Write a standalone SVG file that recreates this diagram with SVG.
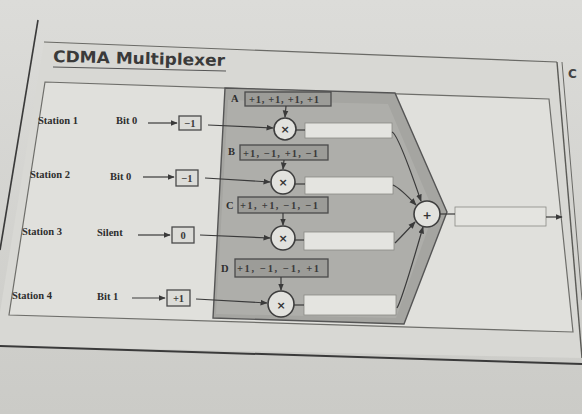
<svg xmlns="http://www.w3.org/2000/svg" width="582" height="414" viewBox="0 0 582 414">
<defs>
<linearGradient id="paper" x1="0" y1="0" x2="0" y2="1">
<stop offset="0" stop-color="#dcdcd9"/>
<stop offset="1" stop-color="#cbcbc7"/>
</linearGradient>
<marker id="ah" viewBox="0 0 10 10" refX="9" refY="5" markerWidth="6" markerHeight="6" orient="auto">
<path d="M0,1 L10,5 L0,9 z" fill="#3a3a3a"/>
</marker>
<style>
.lbl{font-family:"Liberation Serif",serif;font-weight:bold;fill:#2e2e2e;font-size:10.5px}
.code{font-family:"Liberation Serif",serif;font-weight:bold;fill:#3a3a3a;font-size:10.5px}
.cbox{fill:#9c9c98;stroke:#4a4a4a;stroke-width:1.3}
.bbox{fill:#dcdcd8;stroke:#4a4a4a;stroke-width:1.3}
.obox{fill:#e4e4e0;stroke:#8a8a86;stroke-width:0.8}
.circ{fill:#e2e2de;stroke:#3e3e3e;stroke-width:1.6}
.op{font-family:"DejaVu Sans",sans-serif;font-weight:bold;fill:#333;font-size:11px;text-anchor:middle}
.con{fill:none;stroke:#3a3a3a;stroke-width:1.2}
.edge{fill:none;stroke:#6a6a66;stroke-width:1.2}
</style>
</defs>
<rect width="582" height="414" fill="url(#paper)"/>
<!-- card and frames -->
<polygon points="44,42 557,62 582,358 0,346 0,312" fill="#d8d8d4"/>
<polyline class="edge" points="44,42 557,62"/>
<line x1="557" y1="62" x2="582" y2="358" stroke="#5a5a56" stroke-width="1.4"/>
<line x1="562" y1="62" x2="582" y2="300" stroke="#6a6a66" stroke-width="1"/>
<line x1="38" y1="20" x2="0" y2="250" stroke="#3a3a3a" stroke-width="1.6"/>
<text x="568" y="78" font-family="DejaVu Sans,sans-serif" font-weight="bold" font-size="12" fill="#444">C</text>
<g id="title">
<text x="53" y="62" font-family="DejaVu Sans,sans-serif" font-weight="bold" font-size="16" fill="#3a3a3a" textLength="172" lengthAdjust="spacingAndGlyphs" transform="rotate(1.3 53 62)">CDMA Multiplexer</text>
<line x1="53" y1="67" x2="226" y2="71" stroke="#555" stroke-width="1.2"/>
</g>
<!-- inner diagram box -->
<polygon points="45,82 549,99 573,332 9,315" fill="#e0e0dc" stroke="#6e6e6a" stroke-width="1.2"/>
<!-- separator -->
<line x1="0" y1="346" x2="582" y2="364" stroke="#3a3a3a" stroke-width="2"/>
<!-- gray multiplexer panel -->
<polygon points="225,88 395,93 447,212 404,324 213,318" fill="#a5a5a1" stroke="#555" stroke-width="1.4"/>
<polygon points="228,100 388,104 434,212 396,318 216,314" fill="#aeaeaa"/>

<g id="station1">
<text class="lbl" x="38" y="124" font-size="9.5">Station 1</text>
<text class="lbl" x="116" y="124" font-size="9.5">Bit 0</text>
<rect class="bbox" x="179" y="116" width="22" height="14"/>
<text class="code" x="190" y="126.5" text-anchor="middle" font-size="9.5">−1</text>
</g>
<g id="station2">
<text class="lbl" x="30" y="178">Station 2</text>
<text class="lbl" x="110" y="180">Bit 0</text>
<rect class="bbox" x="176" y="170" width="22" height="16"/>
<text class="code" x="187" y="181.5" text-anchor="middle">−1</text>
</g>
<g id="station3">
<text class="lbl" x="22" y="235">Station 3</text>
<text class="lbl" x="97" y="236">Silent</text>
<rect class="bbox" x="172" y="227" width="22" height="16"/>
<text class="code" x="183" y="238.5" text-anchor="middle">0</text>
</g>
<g id="station4">
<text class="lbl" x="12" y="299">Station 4</text>
<text class="lbl" x="97" y="300">Bit 1</text>
<rect class="bbox" x="167" y="290" width="23" height="16"/>
<text class="code" x="178.5" y="301.5" text-anchor="middle">+1</text>
</g>

<g id="codeA">
<text class="lbl" x="231" y="102" font-size="9">A</text>
<rect class="cbox" x="245" y="92" width="86" height="14"/>
<text class="code" x="249" y="102.5" font-size="9.5" textLength="70">+1, +1, +1, +1</text>
</g>
<g id="codeB">
<text class="lbl" x="228" y="155" font-size="9">B</text>
<rect class="cbox" x="240" y="145" width="88" height="15"/>
<text class="code" x="243" y="156.5" textLength="75">+1, −1, +1, −1</text>
</g>
<g id="codeC">
<text class="lbl" x="226" y="209" font-size="10">C</text>
<rect class="cbox" x="238" y="197" width="90" height="16"/>
<text class="code" x="240" y="209" textLength="78">+1, +1, −1, −1</text>
</g>
<g id="codeD">
<text class="lbl" x="221" y="272" font-size="10.5">D</text>
<rect class="cbox" x="235" y="259" width="93" height="18"/>
<text class="code" x="237" y="272" textLength="82">+1, −1, −1, +1</text>
</g>

<g id="mulA"><circle class="circ" cx="285" cy="129" r="11"/><text class="op" x="285" y="133">×</text></g>
<g id="mulB"><circle class="circ" cx="283" cy="182" r="12"/><text class="op" x="283" y="186">×</text></g>
<g id="mulC"><circle class="circ" cx="283" cy="238" r="12"/><text class="op" x="283" y="242">×</text></g>
<g id="mulD"><circle class="circ" cx="281" cy="304" r="13"/><text class="op" x="281" y="308.5">×</text></g>

<g id="outA"><rect class="obox" x="305" y="123" width="87" height="15"/></g>
<g id="outB"><rect class="obox" x="305" y="177" width="88" height="17"/></g>
<g id="outC"><rect class="obox" x="304" y="232" width="90" height="18"/></g>
<g id="outD"><rect class="obox" x="304" y="295" width="92" height="20"/></g>

<g id="adder"><circle class="circ" cx="427" cy="214" r="13"/><text class="op" x="427" y="218.5" font-size="13">+</text></g>
<g id="result"><rect class="obox" x="455" y="207" width="91" height="19" stroke="#6a6a66" stroke-width="1.2"/></g>

<g id="connectors">
<line class="con" x1="148" y1="123" x2="177" y2="123" marker-end="url(#ah)"/>
<line class="con" x1="143" y1="177" x2="174" y2="177" marker-end="url(#ah)"/>
<line class="con" x1="138" y1="235" x2="170" y2="235" marker-end="url(#ah)"/>
<line class="con" x1="132" y1="298" x2="165" y2="298" marker-end="url(#ah)"/>

<line class="con" x1="208" y1="125" x2="273" y2="128" marker-end="url(#ah)"/>
<line class="con" x1="205" y1="178" x2="270" y2="182" marker-end="url(#ah)"/>
<line class="con" x1="200" y1="235" x2="270" y2="238" marker-end="url(#ah)"/>
<line class="con" x1="196" y1="299" x2="267" y2="303" marker-end="url(#ah)"/>

<line class="con" x1="286" y1="106" x2="285" y2="117" marker-end="url(#ah)"/>
<line class="con" x1="284" y1="160" x2="283" y2="169" marker-end="url(#ah)"/>
<line class="con" x1="283" y1="213" x2="283" y2="225" marker-end="url(#ah)"/>
<line class="con" x1="281" y1="277" x2="281" y2="290" marker-end="url(#ah)"/>

<line class="con" x1="296" y1="130" x2="305" y2="130"/>
<line class="con" x1="295" y1="184" x2="305" y2="184"/>
<line class="con" x1="295" y1="240" x2="304" y2="240"/>
<line class="con" x1="294" y1="305" x2="304" y2="305"/>

<path class="con" d="M392,132 Q398,134 421,201" marker-end="url(#ah)"/>
<path class="con" d="M393,185 Q400,188 416,205" marker-end="url(#ah)"/>
<path class="con" d="M395,243 Q402,236 415,222" marker-end="url(#ah)"/>
<path class="con" d="M397,308 Q402,300 423,227" marker-end="url(#ah)"/>

<line class="con" x1="440" y1="214" x2="455" y2="214"/>
<line class="con" x1="546" y1="217" x2="562" y2="217" marker-end="url(#ah)"/>
</g>
</svg>
